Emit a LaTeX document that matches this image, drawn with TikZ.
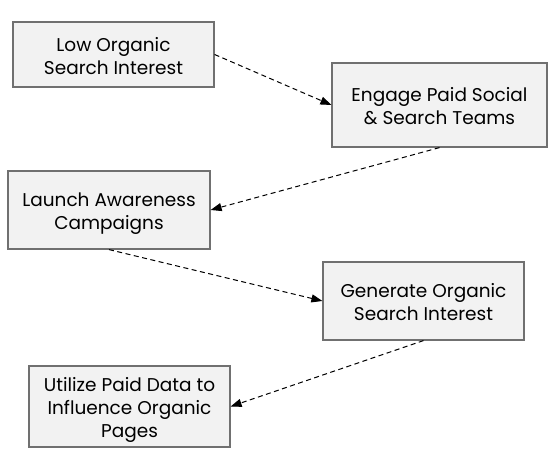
\documentclass[tikz,border=0pt]{standalone}
\usepackage{fontspec}
\setmainfont{Poppins}
\usetikzlibrary{arrows.meta}
\definecolor{boxfill}{HTML}{F2F2F2}
\definecolor{boxline}{HTML}{707070}
\newcommand{\boxtext}[1]{\raisebox{0pt}[\dimexpr\height+7pt\relax][\depth]{\begin{tabular}{@{}c@{}}#1\end{tabular}}}
\begin{document}
\begin{tikzpicture}[x=1pt,y=1pt,
  stepbox/.style={draw=boxline,fill=boxfill,line width=1.2pt,inner sep=0pt,
    font=\fontsize{18.5}{23}\selectfont},
  flow/.style={line width=1pt,dash pattern=on 5pt off 3.5pt,-{Triangle[length=11pt,width=8pt]}}]
\useasboundingbox (0,0) rectangle (560,463);
\node[stepbox,minimum width=201pt,minimum height=65pt] (a) at (113.5,408.5) {\boxtext{Low Organic\\Search Interest}};
\node[stepbox,minimum width=215pt,minimum height=84pt] (b) at (439.5,358) {\boxtext{Engage Paid Social\\\& Search Teams}};
\node[stepbox,minimum width=202pt,minimum height=78pt] (c) at (109,253) {\boxtext{Launch Awareness\\Campaigns}};
\node[stepbox,minimum width=201pt,minimum height=78pt] (d) at (423.5,162) {\boxtext{Generate Organic\\Search Interest}};
\node[stepbox,minimum width=201pt,minimum height=81pt] (e) at (129.5,56.5) {\boxtext{Utilize Paid Data to\\Influence Organic\\Pages}};
\draw[flow] (a.east) -- (b.west);
\draw[flow] (b.south) -- (c.east);
\draw[flow] (c.south) -- (d.west);
\draw[flow] (d.south) -- (e.east);
\end{tikzpicture}
\end{document}
